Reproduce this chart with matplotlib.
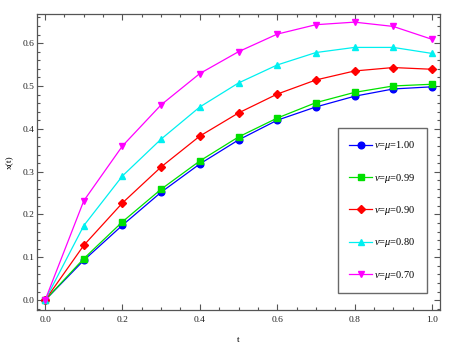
import matplotlib
matplotlib.use("Agg")
import matplotlib.pyplot as plt
from matplotlib.ticker import MultipleLocator

plt.rcParams['font.family'] = ['Liberation Serif', 'DejaVu Serif']
plt.rcParams['mathtext.fontset'] = 'custom'
plt.rcParams['mathtext.it'] = 'Liberation Serif:italic'
plt.rcParams['mathtext.rm'] = 'Liberation Serif'

t = [0.0, 0.1, 0.2, 0.3, 0.4, 0.5, 0.6, 0.7, 0.8, 0.9, 1.0]
x_100 = [0.0, 0.093, 0.175, 0.252, 0.318, 0.374, 0.420, 0.451, 0.476, 0.493, 0.498]
x_099 = [0.0, 0.097, 0.183, 0.259, 0.325, 0.381, 0.425, 0.461, 0.485, 0.500, 0.504]
x_090 = [0.0, 0.128, 0.227, 0.311, 0.383, 0.437, 0.481, 0.514, 0.535, 0.543, 0.539]
x_080 = [0.0, 0.174, 0.290, 0.376, 0.451, 0.507, 0.549, 0.578, 0.590, 0.590, 0.576]
x_070 = [0.0, 0.232, 0.360, 0.456, 0.529, 0.580, 0.621, 0.643, 0.649, 0.639, 0.609]
labels = [r'$\nu$=$\mu$=1.00', r'$\nu$=$\mu$=0.99', r'$\nu$=$\mu$=0.90',
          r'$\nu$=$\mu$=0.80', r'$\nu$=$\mu$=0.70']

series = [x_100, x_099, x_090, x_080, x_070]
colors = ['#0000ff', '#00e000', '#ff0000', '#00f0f0', '#ff00ff']
markers = ['o', 's', 'D', '^', 'v']
msizes = [4.8, 4.5, 4.3, 4.8, 4.8]

fig = plt.figure(figsize=(4.74, 3.55), dpi=100)
ax = fig.add_axes([37/474, 1-310/355, (440-37)/474, (310-14)/355])

for ys, c, m, ms, lab in zip(series, colors, markers, msizes, labels):
    ax.plot(t, ys, color=c, marker=m, markersize=ms, linewidth=0.9, label=lab)

ax.set_xlim(-0.021, 1.021)
ax.set_ylim(-0.023, 0.668)
ax.xaxis.set_major_locator(MultipleLocator(0.2))
ax.xaxis.set_minor_locator(MultipleLocator(0.05))
ax.yaxis.set_major_locator(MultipleLocator(0.1))
ax.yaxis.set_minor_locator(MultipleLocator(0.02))
ax.xaxis.set_major_formatter(plt.FormatStrFormatter('%.1f'))
ax.yaxis.set_major_formatter(plt.FormatStrFormatter('%.1f'))
axc = '#555555'
ax.tick_params(which='both', direction='in', top=True, right=True, colors=axc,
               labelcolor='#222222', labelsize=6.8, width=0.8)
ax.tick_params(which='major', length=4)
ax.tick_params(which='minor', length=2.5)
ax.tick_params(axis='y', which='major', pad=2)
ax.tick_params(axis='x', which='major', pad=4)
for s in ax.spines.values():
    s.set_color(axc)
    s.set_linewidth(0.9)

ax.set_xlabel('t', fontsize=6.8, labelpad=9)
ax.set_ylabel('x(t)', fontsize=6.8, labelpad=6)

leg = ax.legend(loc='upper left', bbox_to_anchor=((338-37)/403, 1-(128-14)/296),
                fontsize=7.5, labelspacing=1.85, handlelength=2.2, handletextpad=0.2,
                borderpad=1.1, borderaxespad=0, frameon=True, fancybox=False)
leg.get_frame().set_edgecolor('#444444')
leg.get_frame().set_linewidth(1.0)

fig.savefig('out.png', dpi=100)
